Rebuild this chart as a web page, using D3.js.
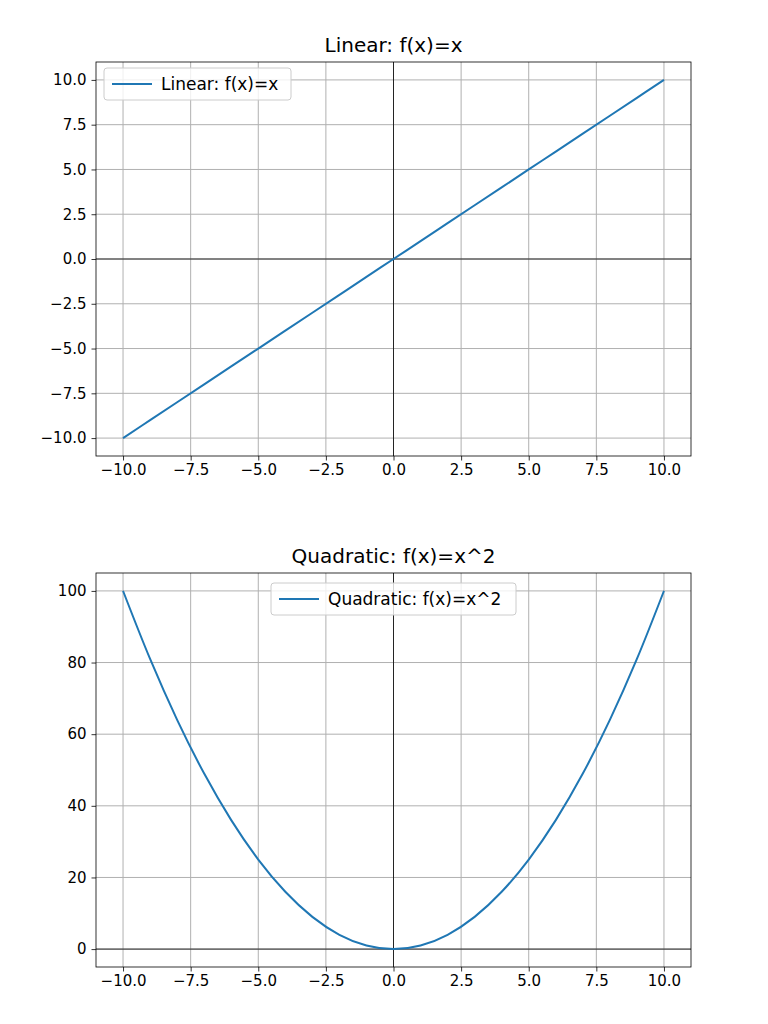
<!DOCTYPE html>
<html><head><meta charset="utf-8">
<script src="https://cdn.jsdelivr.net/npm/d3@7"></script>
<style>body{margin:0;background:#fff}text{font-family:"DejaVu Sans",sans-serif;}</style>
</head><body><svg id="c" width="768" height="1024"></svg>
<script>
const xs = [-10,-9,-8,-7,-6,-5,-4,-3,-2,-1,0,1,2,3,4,5,6,7,8,9,10];
const linearY = [-10,-9,-8,-7,-6,-5,-4,-3,-2,-1,0,1,2,3,4,5,6,7,8,9,10];
const quadY = [100,81,64,49,36,25,16,9,4,1,0,1,4,9,16,25,36,49,64,81,100];
const xTicks = [-10,-7.5,-5,-2.5,0,2.5,5,7.5,10];
const yTicksLin = [-10,-7.5,-5,-2.5,0,2.5,5,7.5,10];
const yTicksQuad = [0,20,40,60,80,100];
const titles = ["Linear: f(x)=x","Quadratic: f(x)=x^2"];

const svg = d3.select("#c");
const fmtMinus = s => s.replace("-", "\u2212");

function panel(top, bottom, yDom, yTicks, ys, title, legendPos, yFmt){
  const L=96, R=691;
  const x = d3.scaleLinear().domain([-11,11]).range([L,R]);
  const y = d3.scaleLinear().domain(yDom).range([bottom,top]);
  const g = svg.append("g");
  xTicks.forEach(t=>g.append("line").attr("x1",x(t)).attr("x2",x(t)).attr("y1",top).attr("y2",bottom).attr("stroke","#b0b0b0").attr("stroke-width",1));
  yTicks.forEach(t=>g.append("line").attr("y1",y(t)).attr("y2",y(t)).attr("x1",L).attr("x2",R).attr("stroke","#b0b0b0").attr("stroke-width",1));
  g.append("line").attr("x1",x(0)).attr("x2",x(0)).attr("y1",top).attr("y2",bottom).attr("stroke","#000").attr("stroke-width",0.8);
  g.append("line").attr("y1",y(0)).attr("y2",y(0)).attr("x1",L).attr("x2",R).attr("stroke","#000").attr("stroke-width",0.8);
  const data = xs.map((v,i)=>[v,ys[i]]);
  g.append("path").datum(data).attr("fill","none").attr("stroke","#1f77b4").attr("stroke-width",2)
    .attr("d", d3.line().x(d=>x(d[0])).y(d=>y(d[1])).curve(d3.curveMonotoneX));
  const ax = g.append("g").attr("transform",`translate(0,${bottom})`).call(d3.axisBottom(x).tickValues(xTicks).tickSize(4.5).tickPadding(4).tickFormat(d=>fmtMinus(d3.format(".1f")(d))));
  const ay = g.append("g").attr("transform",`translate(${L},0)`).call(d3.axisLeft(y).tickValues(yTicks).tickSize(4.5).tickPadding(5).tickFormat(d=>fmtMinus(yFmt(d))));
  [ax,ay].forEach(a=>{a.select(".domain").remove();a.selectAll("text").attr("font-size",15).attr("fill","#000").attr("font-family","DejaVu Sans");a.selectAll("line").attr("stroke","#000").attr("stroke-width",0.8);});
  g.append("rect").attr("x",L).attr("y",top).attr("width",R-L).attr("height",bottom-top).attr("fill","none").attr("stroke","#000").attr("stroke-width",0.8);
  g.append("text").attr("x",(L+R)/2).attr("y",top-10).attr("text-anchor","middle").attr("font-size",20).text(title);
  const [lx,ly,lw] = legendPos;
  g.append("rect").attr("x",lx).attr("y",ly).attr("width",lw).attr("height",32).attr("rx",3).attr("fill","#fff").attr("fill-opacity",0.8).attr("stroke","#ccc");
  g.append("line").attr("x1",lx+8).attr("x2",lx+48).attr("y1",ly+16).attr("y2",ly+16).attr("stroke","#1f77b4").attr("stroke-width",2);
  g.append("text").attr("x",lx+57).attr("y",ly+22).attr("font-size",17).text(title);
}
panel(62,456,[-11,11],yTicksLin,linearY,titles[0],[104,68,187],d3.format(".1f"));
panel(573,967,[-5,105],yTicksQuad,quadY,titles[1],[271,583,245],d3.format("d"));
</script></body></html>
